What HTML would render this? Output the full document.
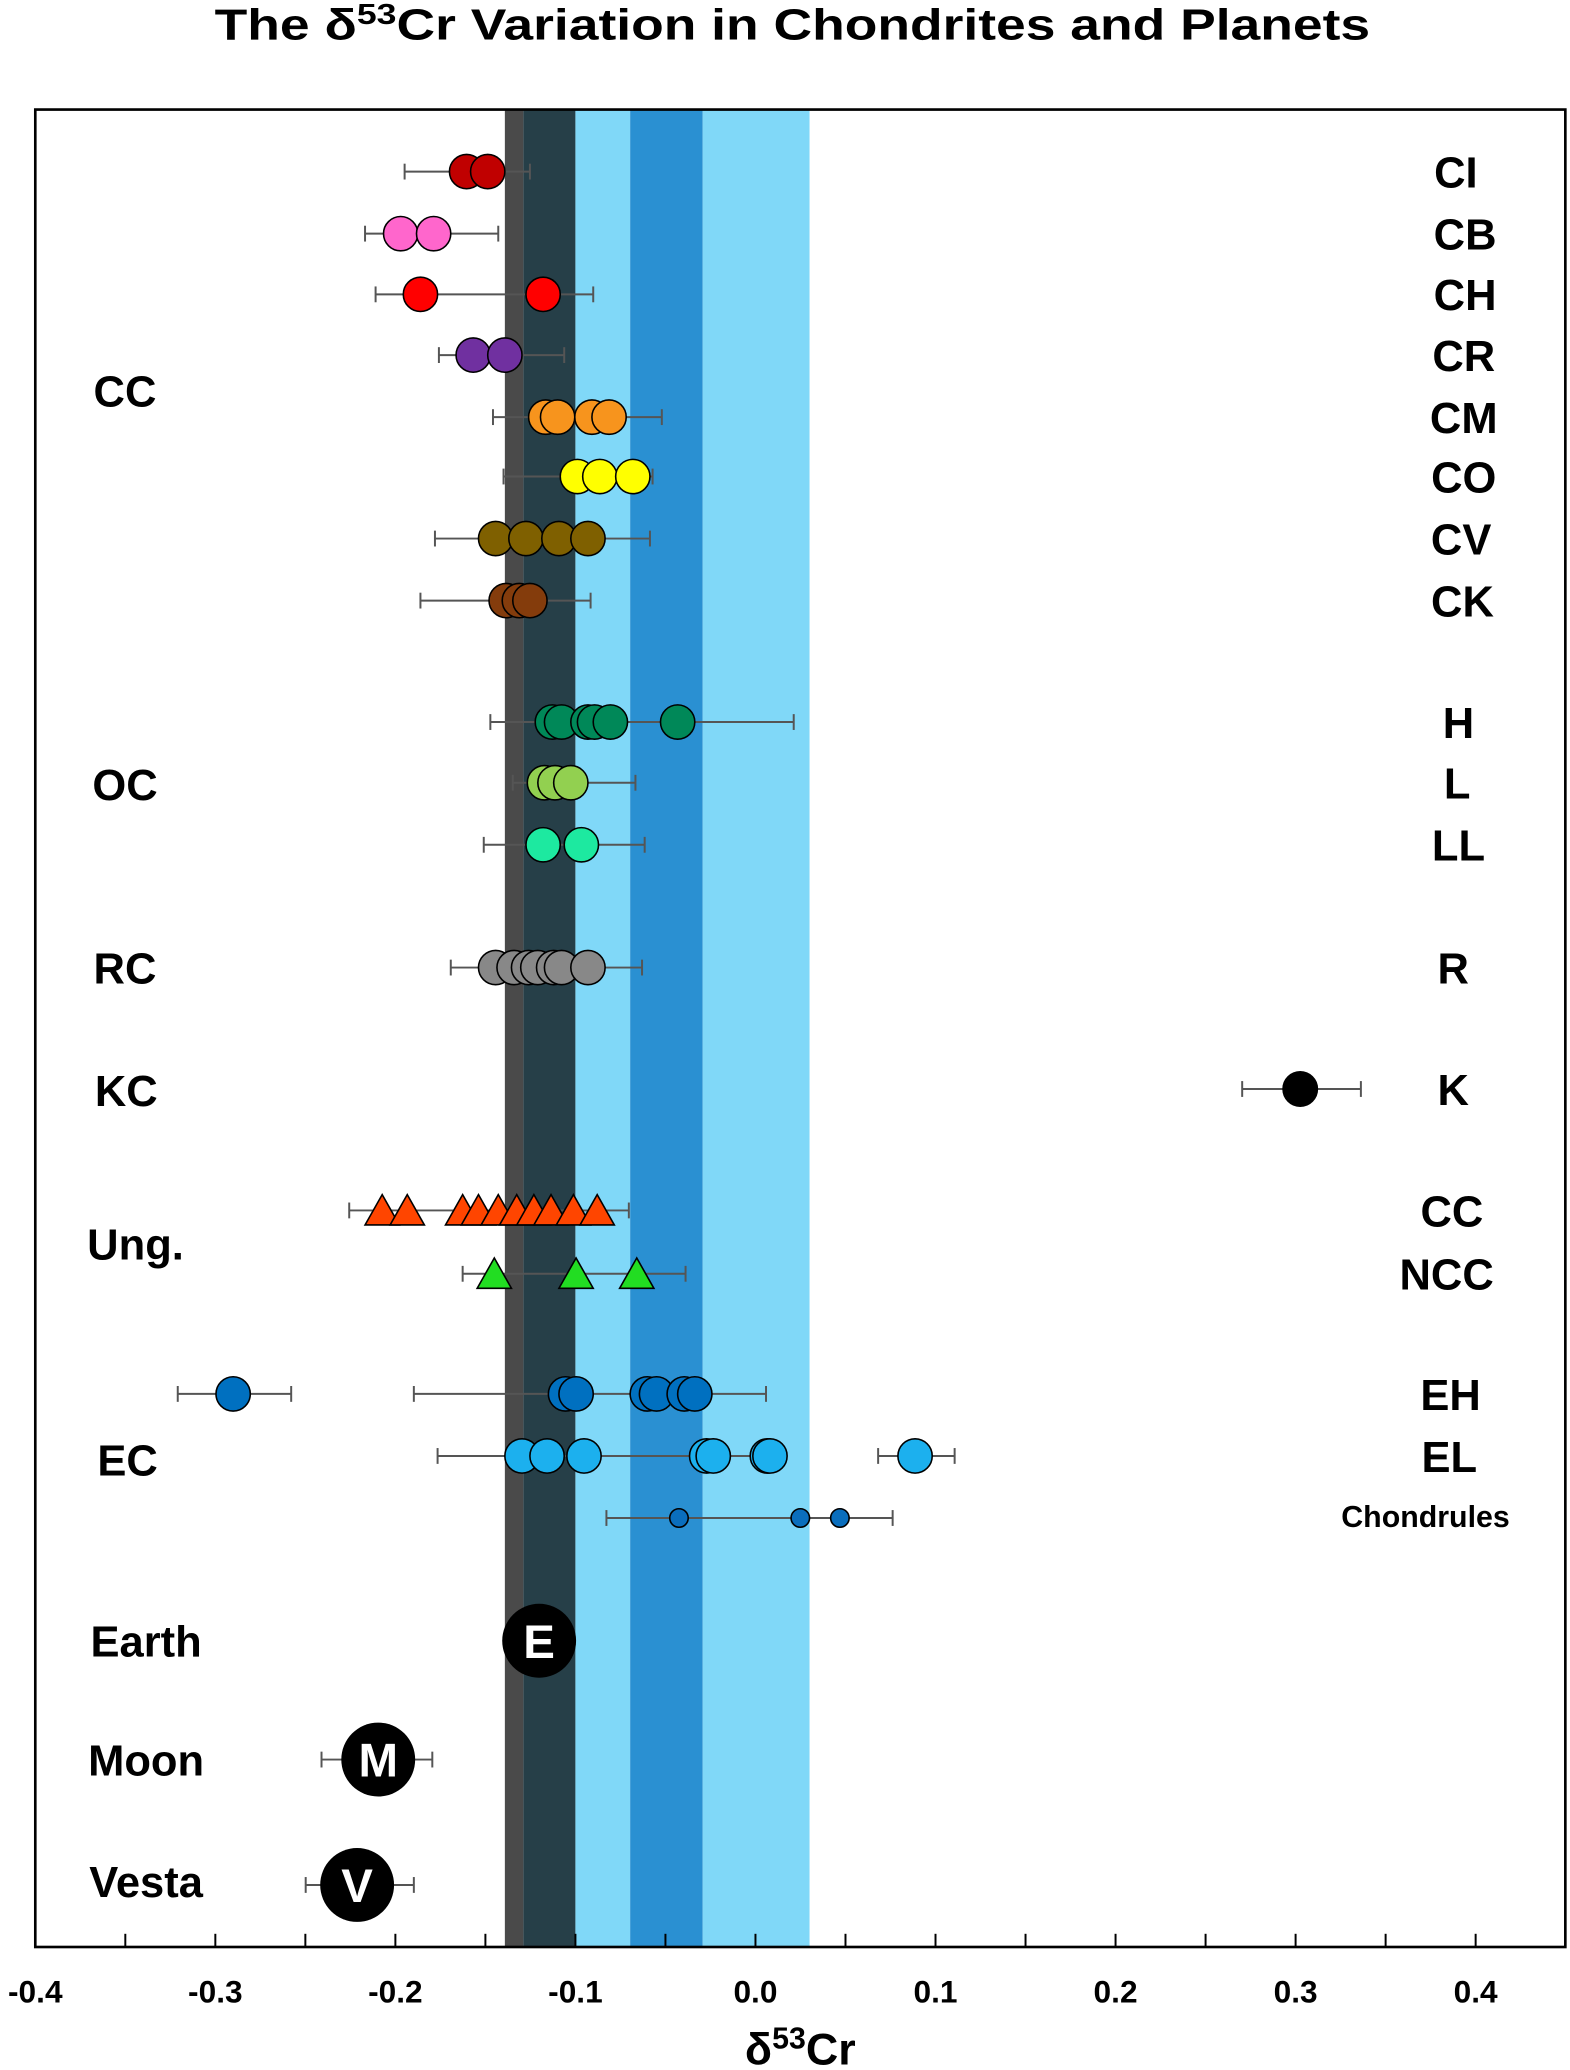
<!DOCTYPE html>
<html><head><meta charset="utf-8"><style>
html,body{margin:0;padding:0;background:#fff;width:1570px;height:2070px;overflow:hidden}
svg{display:block}
text{font-family:"Liberation Sans",Arial,sans-serif;font-weight:bold;fill:#000}
</style></head><body>
<svg id="s" width="1570" height="2070" viewBox="0 0 1570 2070" xmlns="http://www.w3.org/2000/svg">
<g id="g" transform="matrix(1.319,0,0,1.32,1,0)"></g>
</svg>
<script>
const g=document.getElementById('g');let h='';
h+='<rect x="382" y="83" width="14" height="1392" fill="#4a4a4a"/>';
h+='<rect x="396" y="83" width="39.5" height="1392" fill="#263f48"/>';
h+='<rect x="435.5" y="83" width="41.5" height="1392" fill="#80d8f8"/>';
h+='<rect x="477" y="83" width="55" height="1392" fill="#2a90d2"/>';
h+='<rect x="532" y="83" width="81" height="1392" fill="#80d8f8"/>';
h+='<rect x="26" y="83" width="1160" height="1392" fill="none" stroke="#000" stroke-width="2"/>';
for(let i=0;i<=17;i++){const v=-0.4+i*0.05;const x=26+(v+0.4)*1365;if(x>1186)break;h+=`<line x1="${x}" y1="1475" x2="${x}" y2="${1475-10}" stroke="#000" stroke-width="1.5"/>`;}
const tl=['-0.4','-0.3','-0.2','-0.1','0.0','0.1','0.2','0.3','0.4'];
tl.forEach((t,i)=>{const x=26+i*0.1*1365;h+=`<text x="${x}" y="1517" font-size="24" text-anchor="middle">${t}</text>`});
h+='<text x="606" y="1564" font-size="34" text-anchor="middle">δ<tspan font-size="23" dy="-12">53</tspan><tspan dy="12">Cr</tspan></text>';
h+='<text x="600" y="30" font-size="33" text-anchor="middle" textLength="876" lengthAdjust="spacingAndGlyphs">The δ<tspan font-size="22" dy="-12">53</tspan><tspan dy="12">Cr Variation in Chondrites and Planets</tspan></text>';
function eb(a,b,y){return `<line x1="${a}" y1="${y}" x2="${b}" y2="${y}" stroke="#555" stroke-width="1.5"/><line x1="${a}" y1="${y-6}" x2="${a}" y2="${y+6}" stroke="#555" stroke-width="1.5"/><line x1="${b}" y1="${y-6}" x2="${b}" y2="${y+6}" stroke="#555" stroke-width="1.5"/>`}
function cs(xs,y,c,r){return xs.map(x=>`<circle cx="${x}" cy="${y}" r="${r||13}" fill="${c}" stroke="#000" stroke-width="1.2"/>`).join('')}
function tr(xs,y,c){return xs.map(x=>`<polygon points="${x-13},${y+11} ${x+13},${y+11} ${x},${y-12}" fill="${c}" stroke="#000" stroke-width="1.2"/>`).join('')}
const rows=[
[130,[353,369],'#c00000',306,401],
[177,[303,328],'#ff66cc',276,377],
[223,[318,411],'#ff0000',284,449],
[269,[358,382],'#7030a0',332,427],
[316,[413,422,448,461],'#f7941d',373,501],
[361,[437,454,479],'#ffff00',381,494],
[408,[375,398,423,445],'#7f6000',329,492],
[455,[383,393,401],'#843c0c',318,447],
[547,[418,425,445,450,462,513],'#008858',371,601],
[593,[412,420,432],'#92d050',388,481],
[640,[411,440],'#1de9a0',366,488],
[733,[375,389,400,407,419,425,445],'#888888',341,486],
[825,[985],'#000000',941,1031],
];
rows.forEach(r=>{h+=eb(r[3],r[4],r[0]);h+=cs(r[1],r[0],r[2]);});
h+=eb(264,476,917)+tr([289,308,350,362,377,391,404,417,434,452],917,'#ff4500');
h+=eb(350,519,965)+tr([374,436,482],965,'#22dd22');
h+=eb(134,220,1056)+eb(313,580,1056)+cs([176,428,436,490,497,518,526],1056,'#0070c0');
h+=eb(331,570,1103)+eb(665,723,1103)+cs([395,414,442,535,540,581,583,693],1103,'#1cb0ee');
h+=eb(459,676,1150)+cs([514,606,636],1150,'#0a6ebd',7);
h+=`<circle cx="408" cy="1243" r="28" fill="#000"/><text x="408" y="1256" font-size="36" style="fill:#fff" text-anchor="middle">E</text>`;
h+=eb(243,327,1333)+`<circle cx="286" cy="1333" r="28" fill="#000"/><text x="286" y="1346" font-size="36" style="fill:#fff" text-anchor="middle">M</text>`;
h+=eb(231,313,1428)+`<circle cx="270" cy="1428" r="28" fill="#000"/><text x="270" y="1441" font-size="36" style="fill:#fff" text-anchor="middle">V</text>`;
const L=[['CC',94,296],['OC',94,594],['RC',94,733],['KC',95,826],['Ung.',102,942],['EC',96,1106],['Earth',110,1243],['Moon',110,1333],['Vesta',110,1425]];
L.forEach(l=>h+=`<text x="${l[1]}" y="${l[2]+12}" font-size="33" text-anchor="middle">${l[0]}</text>`);
const R=[['CI',1103,130],['CB',1110,177],['CH',1110,223],['CR',1109,269],['CM',1109,316],['CO',1109,361],['CV',1107,408],['CK',1108,455],['H',1105,547],['L',1104,593],['LL',1105,640],['R',1101,733],['K',1101,825],['CC',1100,917],['NCC',1096,965],['EH',1099,1056],['EL',1098,1103]];
R.forEach(l=>h+=`<text x="${l[1]}" y="${l[2]+12}" font-size="33" text-anchor="middle">${l[0]}</text>`);
h+='<text x="1080" y="1157" font-size="23" text-anchor="middle">Chondrules</text>';
g.innerHTML=h;
</script>
</body></html>
